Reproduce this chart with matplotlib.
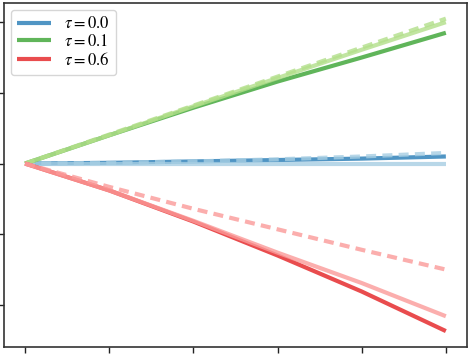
import matplotlib
matplotlib.use("Agg")
import matplotlib.pyplot as plt

steps = [0, 1, 2, 3, 4, 5]
taus = ["0.0", "0.1", "0.6"]

# tau = 0.0 (blue)
blue_dark = [0, 0.01, 0.03, 0.05, 0.07, 0.10]
blue_light = [0, 0.0, 0.0, 0.0, 0.0, 0.0]
blue_dash = [0, 0.01, 0.03, 0.06, 0.10, 0.15]
# tau = 0.1 (green)
green_dark = [0, 0.40, 0.79, 1.16, 1.50, 1.85]
green_light = [0, 0.40, 0.81, 1.21, 1.61, 2.00]
green_dash = [0, 0.41, 0.82, 1.23, 1.64, 2.05]
# tau = 0.6 (red)
red_dark = [0, -0.38, -0.82, -1.30, -1.81, -2.37]
red_light = [0, -0.38, -0.81, -1.26, -1.69, -2.16]
red_dash = [0, -0.33, -0.64, -0.93, -1.22, -1.50]

series = [
    (blue_dark, blue_light, blue_dash, "#1f78b4", "#a6cee3"),
    (green_dark, green_light, green_dash, "#33a02c", "#b2df8a"),
    (red_dark, red_light, red_dash, "#e31a1c", "#fb9a99"),
]

plt.rcParams['mathtext.fontset'] = 'stix'
plt.rcParams['font.family'] = ['Liberation Serif', 'DejaVu Serif']

fig = plt.figure(figsize=(4.74, 3.54), dpi=100)
ax = fig.add_axes([0.0084, 0.0206, 0.9766, 0.9709])

handles = []
for (dark, light, dash, cd, cl), tau in zip(series, taus):
    h, = ax.plot(steps, dark, color=cd, lw=3, alpha=0.78, label=r"$\tau = " + tau + "$",
                 solid_capstyle='butt')
    ax.plot(steps, light, color=cl, lw=3, alpha=0.8, solid_capstyle='butt')
    ax.plot(steps, dash, color=cl, lw=3, alpha=0.8, linestyle=(0, (2.4, 1.5)))
    handles.append(h)

ax.set_yticks([-2, -1, 0, 1, 2])
ax.set_xticks(steps)
ax.set_xticklabels([])
ax.set_yticklabels([])
ax.tick_params(direction='out', length=4, width=1, color='#222222')
for s in ax.spines.values():
    s.set_color('#333333')
    s.set_linewidth(1.2)

ax.legend(handles=handles, loc='upper left', fontsize=12, handlelength=2.0,
          borderaxespad=0.4, labelspacing=0.1, handletextpad=0.8)

fig.savefig("out.png", dpi=100)
